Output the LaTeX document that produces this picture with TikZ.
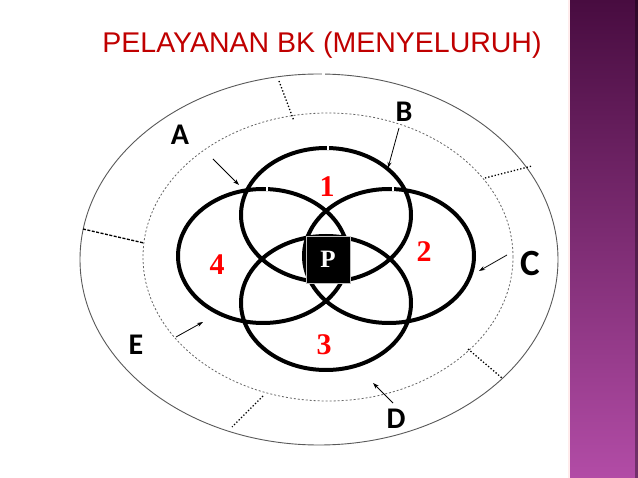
\documentclass[tikz,border=0pt]{standalone}
\usepackage{fontspec}
\setmainfont{Liberation Serif}
\newfontfamily\titlefont{Liberation Sans}
\newfontfamily\letterfont{Carlito}
\usetikzlibrary{shapes.geometric,arrows.meta}
\definecolor{titlered}{RGB}{192,0,0}
\definecolor{numred}{RGB}{255,0,0}
\definecolor{bartop}{RGB}{72,12,64}
\definecolor{barbottom}{RGB}{178,76,166}

\begin{document}
\begin{tikzpicture}[x=1pt,y=-1pt]
\tikzstyle{ring}=[ellipse,draw,line width=4pt,inner sep=0pt,minimum width=170pt,minimum height=134pt]
\tikzstyle{num}=[text=numred,font=\fontsize{30}{30}\selectfont\bfseries]
\tikzstyle{letter}=[font=\letterfont\bfseries\fontsize{30}{30}\selectfont]
\tikzstyle{pointer}=[-{Stealth[length=6pt,width=4pt]},line width=0.8pt]
\tikzstyle{divider}=[line width=1.3pt,dotted]
\tikzstyle{gap}=[white,line width=1.8pt]
\useasboundingbox (0,0) rectangle (638,478);
\fill[white] (0,0) rectangle (638,478);
\shade[top color=bartop,bottom color=barbottom] (568,0) rectangle (638,478);
\draw[white!70!pink,line width=1.5pt] (568.8,0) -- (568.8,478);
\fill[black,opacity=0.35] (635,0) rectangle (638,478);

\node[text=titlered,font=\titlefont\fontsize{28.5}{28.5}\selectfont] (title) at (322,45) {PELAYANAN BK (MENYELURUH)};

\node[ellipse,draw=gray!70!black,line width=0.9pt,inner sep=0pt,minimum width=478pt,minimum height=371pt] (outer) at (319,259.5) {};
\node[ellipse,draw=gray!80!black,dash pattern=on 2pt off 2pt,line width=0.8pt,inner sep=0pt,minimum width=370pt,minimum height=288pt] (zone) at (328,257) {};
\draw[gap,line width=3pt] (outer.north) ++(4,-3) -- ++(0,6);

\draw[divider] (279,81) -- (294,121);
\draw[divider] (485,178) -- (532,166);
\draw[line width=1.3pt,dash pattern=on 3pt off 1.5pt] (83,229) -- (144,243);
\draw[divider] (263,396) -- (232,427);
\draw[divider] (468,349) -- (502,378);

\node[ring] (r1) at (326,215) {};
\node[ring] (r4) at (263,256) {};
\node[ring] (r2) at (389,256) {};
\node[ring] (r3) at (326,303) {};
\draw[gap] (r1.north) ++(2,-4) -- ++(0,8);
\draw[gap] (r4.north) ++(4,-4) -- ++(0,8);
\draw[gap] (r2.north) ++(4,-4) -- ++(0,8);

\node[fill=black,draw=gray!50,line width=0.8pt,minimum width=44pt,minimum height=47pt,text=white,font=\bfseries\fontsize{25}{25}\selectfont] (p) at (328,259.5) {P};

\node[num] (n1) at (327,187) {1};
\node[num] (n2) at (424,252) {2};
\node[num] (n3) at (324,345) {3};
\node[num] (n4) at (217,265) {4};

\node[letter] (la) at (180,135) {A};
\node[letter] (lb) at (404,112) {B};
\node[letter,font=\letterfont\bfseries\fontsize{37}{37}\selectfont] (lc) at (530,263) {C};
\node[letter] (ld) at (396,419) {D};
\node[letter] (le) at (136,345) {E};

\coordinate (ta) at (213,159); \coordinate (ha) at (239,185);
\coordinate (tb) at (399,128); \coordinate (hb) at (388,168);
\coordinate (tc) at (507,255); \coordinate (hc) at (479,271);
\coordinate (td) at (393,403); \coordinate (hd) at (373,383);
\coordinate (te) at (176,337); \coordinate (he) at (203,322);
\draw[pointer] (ta) -- (ha);
\draw[pointer] (tb) -- (hb);
\draw[pointer] (tc) -- (hc);
\draw[pointer] (td) -- (hd);
\draw[pointer] (te) -- (he);
\end{tikzpicture}
\end{document}
